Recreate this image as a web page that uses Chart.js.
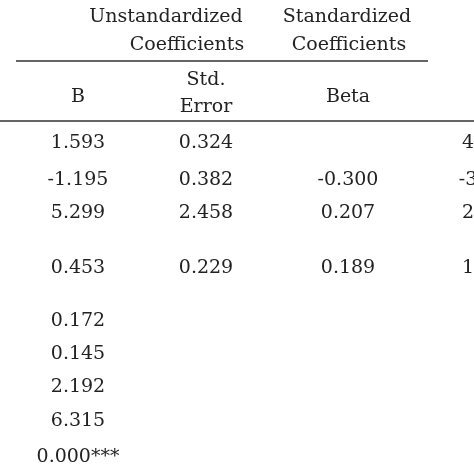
<!DOCTYPE html>
<html>
<head>
<meta charset="utf-8">
<script src="https://cdn.jsdelivr.net/npm/chart.js@4/dist/chart.umd.min.js"></script>
<style>
  html, body { margin: 0; padding: 0; background: #fff; }
  #wrap { width: 474px; height: 474px; }
</style>
</head>
<body>
<div id="wrap"><canvas id="tabla"></canvas></div>
<script>
// table values
const colB = ['1.593', '-1.195', '5.299', '0.453', '0.172', '0.145', '2.192', '6.315', '0.000***'];
const colStdError = ['0.324', '0.382', '2.458', '0.229'];
const colBeta = ['', '-0.300', '0.207', '0.189'];
const colT = ['4', '-3', '2', '1'];
const headerTop = [['Unstandardized', 166, 17], ['Coefficients', 187, 45], ['Standardized', 347, 17], ['Coefficients', 349, 45]];
const headerSub = [['B', 78, 97], ['Std.', 206, 80], ['Error', 206, 107], ['Beta', 348, 97]];

// layout
const rowY = [143, 180, 213, 268, 321, 354, 387, 421, 457];
const colX = { b: 78, se: 206, beta: 348, t: 468 };

function celdas(valores, x) {
  return valores.map((v, i) => ({ x: x, y: rowY[i], texto: v })).filter(p => p.texto !== '');
}

const puntos = [].concat(
  celdas(colB, colX.b),
  celdas(colStdError, colX.se),
  celdas(colBeta, colX.beta),
  celdas(colT, colX.t),
  headerTop.concat(headerSub).map(h => ({ x: h[1], y: h[2], texto: h[0] }))
);

const pluginTexto = {
  id: 'pluginTexto',
  afterDatasetsDraw(chart) {
    const ctx = chart.ctx;
    const sx = chart.scales.x, sy = chart.scales.y;
    ctx.save();
    ctx.fillStyle = '#222';
    ctx.font = '19px "DejaVu Serif", "Liberation Serif", serif';
    ctx.textAlign = 'center';
    ctx.textBaseline = 'middle';
    chart.data.datasets[0].data.forEach(p => {
      ctx.fillText(p.texto, sx.getPixelForValue(p.x), sy.getPixelForValue(p.y));
    });
    // rules
    ctx.strokeStyle = '#333';
    ctx.lineWidth = 1.5;
    ctx.beginPath();
    ctx.moveTo(sx.getPixelForValue(16), sy.getPixelForValue(61));
    ctx.lineTo(sx.getPixelForValue(428), sy.getPixelForValue(61));
    ctx.moveTo(sx.getPixelForValue(0), sy.getPixelForValue(121));
    ctx.lineTo(sx.getPixelForValue(474), sy.getPixelForValue(121));
    ctx.stroke();
    ctx.restore();
  }
};

new Chart(document.getElementById('tabla'), {
  type: 'scatter',
  data: { datasets: [{ data: puntos, pointRadius: 0 }] },
  options: {
    responsive: true,
    maintainAspectRatio: false,
    animation: false,
    layout: { padding: 0 },
    plugins: { legend: { display: false }, tooltip: { enabled: false } },
    scales: {
      x: { type: 'linear', min: 0, max: 474, display: false },
      y: { type: 'linear', min: 0, max: 474, reverse: true, display: false }
    }
  },
  plugins: [pluginTexto]
});
</script>
</body>
</html>
